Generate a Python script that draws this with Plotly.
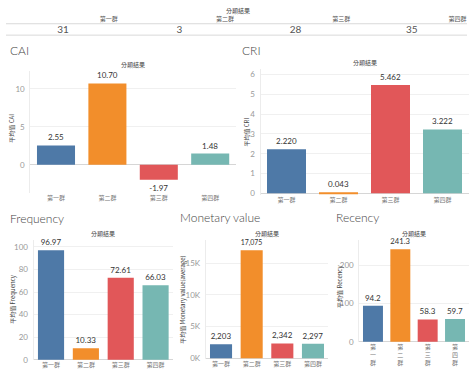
import plotly.graph_objects as go

W, H = 474, 379

# ---------------- data ----------------
categories = ["第一群", "第二群", "第三群", "第四群"]
counts = [31, 3, 28, 35]
cai = [2.55, 10.70, -1.97, 1.48]
cri = [2.220, 0.043, 5.462, 3.222]
frequency = [96.97, 10.33, 72.61, 66.03]
monetary = [2203, 17075, 2342, 2297]
recency = [94.2, 241.3, 58.3, 59.7]
monetary_ticks = [0, 5000, 10000, 15000]
colors = ["#4e79a7", "#f28e2b", "#e15759", "#76b7b2"]

FONT = "Lato, Noto Sans CJK TC, sans-serif"
CJK = "Noto Sans CJK TC, sans-serif"


def xd(a, b):
    return [a / W, b / W]


def yd(top, bottom):
    return [1 - bottom / H, 1 - top / H]


panels = [
    dict(title="CAI", vals=cai, tt="%{y:.2f}", x=(30.3, 235.9), y=(72, 195),
         yr=[-3.7, 12.3], dtick=5, bw=0.74, ytitle="平均值 CAI",
         tpos=(8, 51), ypos=(12, 130), vertical=False),
    dict(title="CRI", vals=cri, tt="%{y:.3f}", x=(260.5, 468.5), y=(70, 197),
         yr=[-0.08, 6.26], dtick=1, bw=0.75, ytitle="平均值 CRI",
         tpos=(240, 51), ypos=(247, 133), vertical=False),
    dict(title="Frequency", vals=frequency, tt="%{y:.2f}", x=(33.6, 173), y=(243, 364),
         yr=[-0.3, 105.7], dtick=20, bw=0.75, ytitle="平均值 Frequency",
         tpos=(8, 221), ypos=(13, 302), vertical=False),
    dict(title="Monetary value", vals=monetary, tt="%{y:,.0f}", x=(205.7, 328.3), y=(243, 363),
         yr=[-150, 18620], dtick=None, bw=0.72, ytitle="平均值 Monetary value(average)",
         tpos=(178, 220), ypos=(183, 303), vertical=False),
    dict(title="Recency", vals=recency, tt="%{y:.1f}", x=(359.3, 468.7), y=(243, 346),
         yr=[-1.3, 264.5], dtick=100, bw=0.73, ytitle="平均值 Recency",
         tpos=(334, 220), ypos=(340, 290), vertical=True),
]

fig = go.Figure()
layout = dict(
    width=W, height=H, margin=dict(l=0, r=0, t=0, b=0),
    paper_bgcolor="white", plot_bgcolor="white",
    showlegend=False, hovermode=False,
    font=dict(family=FONT, color="#555"),
)
annotations = []

for i, p in enumerate(panels, start=1):
    xa = "x" if i == 1 else f"x{i}"
    ya = "y" if i == 1 else f"y{i}"
    fig.add_trace(go.Bar(
        x=categories, y=p["vals"], xaxis=xa, yaxis=ya,
        marker=dict(color=colors, line=dict(width=0)),
        width=p["bw"], texttemplate=p["tt"], textposition="outside",
        textfont=dict(size=8, color="#333", family=FONT), cliponaxis=False,
    ))
    ticktext = ["<br>".join(list(c)) for c in categories] if p["vertical"] else categories
    layout["xaxis" if i == 1 else f"xaxis{i}"] = dict(
        domain=xd(*p["x"]), anchor=ya, type="category",
        categoryorder="array", categoryarray=categories,
        range=[-0.5, 3.5], showgrid=False, zeroline=False, showline=False,
        ticks="", tickvals=categories, ticktext=ticktext,
        tickfont=dict(size=6, color="#777", family=CJK),
        fixedrange=True,
    )
    yax = dict(
        domain=yd(*p["y"]), anchor=xa, range=p["yr"],
        showgrid=True, gridcolor="#f0f0f0", gridwidth=1,
        zeroline=True, zerolinecolor="#d6d6d6", zerolinewidth=1,
        showline=True, linecolor="#ececec", linewidth=1,
        ticks="", tickfont=dict(size=8, color="#999", family=FONT),
        ticklabelstandoff=3, fixedrange=True,
    )
    if p["dtick"] is None:
        yax["tickvals"] = monetary_ticks
        yax["ticktext"] = [f"{v // 1000}K" for v in monetary_ticks]
    else:
        yax["dtick"] = p["dtick"]
    layout["yaxis" if i == 1 else f"yaxis{i}"] = yax

    # panel title
    annotations.append(dict(
        text=p["title"], x=p["tpos"][0] / W, y=1 - p["tpos"][1] / H,
        xref="paper", yref="paper", xanchor="left", yanchor="middle",
        showarrow=False, font=dict(size=12, color="#444", family=FONT, weight=300),
    ))
    # column header
    annotations.append(dict(
        text="分類結果", x=(p["x"][0] + p["x"][1]) / 2 / W,
        y=1 - (p["y"][0] - 7) / H,
        xref="paper", yref="paper", xanchor="center", yanchor="middle",
        showarrow=False, font=dict(size=6, color="#444", family=CJK),
    ))
    # y axis title
    annotations.append(dict(
        text=p["ytitle"], x=p["ypos"][0] / W, y=1 - p["ypos"][1] / H,
        xref="paper", yref="paper", xanchor="center", yanchor="middle",
        textangle=-90, showarrow=False,
        font=dict(size=6, color="#444", family=CJK),
    ))

# ---------------- top count table ----------------
n = len(categories)
fig.add_trace(go.Scatter(
    x=[k + 0.5 for k in range(n)], y=[0] * n, text=[str(c) for c in counts],
    mode="text", textfont=dict(size=10, color="#555", family=FONT),
    xaxis="x6", yaxis="y6", cliponaxis=False,
))
fig.add_trace(go.Scatter(
    x=[k + 0.97 for k in range(n)], y=[1] * n, text=categories,
    mode="text", textposition="middle left",
    textfont=dict(size=6, color="#555", family=CJK),
    xaxis="x6", yaxis="y6", cliponaxis=False,
))
layout["xaxis6"] = dict(domain=xd(5, 470), anchor="y6", range=[0, n], visible=False, fixedrange=True)
layout["yaxis6"] = dict(domain=yd(14, 38), anchor="x6", range=[-0.714, 1.571], visible=False, fixedrange=True)

annotations.append(dict(
    text="分類結果", x=238 / W, y=1 - 10.7 / H, xref="paper", yref="paper",
    xanchor="center", yanchor="middle", showarrow=False,
    font=dict(size=6, color="#444", family=CJK),
))
shapes = []
for py in (24, 35.5):
    shapes.append(dict(type="line", xref="paper", yref="paper",
                       x0=6 / W, x1=467 / W, y0=1 - py / H, y1=1 - py / H,
                       line=dict(color="#d9d9d9", width=1)))

layout["annotations"] = annotations
layout["shapes"] = shapes
fig.update_layout(**layout)
fig.write_html(
    "out.html",
    config={"displayModeBar": False},
    post_script="document.body.style.margin='0';document.body.style.padding='0';"
                "document.documentElement.style.overflow='hidden';",
)
